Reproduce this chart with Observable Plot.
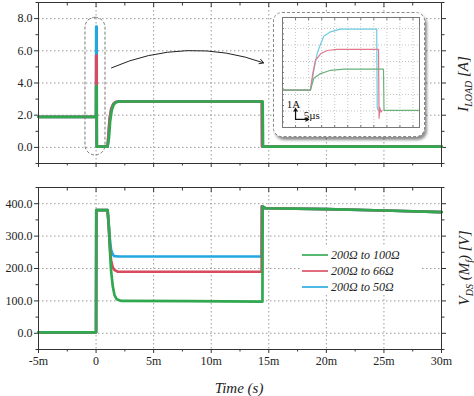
<!DOCTYPE html>
<html><head><meta charset="utf-8">
<script src="https://cdn.jsdelivr.net/npm/d3@7"></script>
<script src="https://cdn.jsdelivr.net/npm/@observablehq/plot@0.6"></script>
<style>
body{margin:0;background:#fff;}
#wrap{position:relative;width:474px;height:396px;overflow:hidden;}
#wrap > svg, #wrap > div{position:absolute;}
</style></head><body><div id="wrap"></div>
<script>
// ---- colours ----
const colGreen = "#2fa84f", colRed = "#d84a5e", colBlue = "#22a8df";
const inGreen = "#6bb27c", inRed = "#e0798c", inBlue = "#6dcbe4";

// ---- ticks ----
const timeTicks = [-5, 0, 5, 10, 15, 20, 25, 30];
const timeMinor = [-2.5, 2.5, 7.5, 12.5, 17.5, 22.5, 27.5];
const iTicks = [0, 2, 4, 6, 8];
const iMinor = [-1, 1, 3, 5, 7, 9];
const vTicks = [0, 100, 200, 300, 400];
const vMinor = [-50, 50, 150, 250, 350, 450];

// ---- load current (ms, A) ----
const iBlue  = [[-5,1.9],[0,1.9],[0.01,7.5],[0.05,7.5],[0.06,0.05],[1.0,0.05],[1.08,0.8],[1.18,1.8],[1.32,2.4],[1.5,2.7],[1.7,2.82],[2,2.85],[14.4,2.85],[14.42,0.05],[30,0.05]];
const iRed   = [[-5,1.9],[0,1.9],[0.01,5.7],[0.05,5.7],[0.06,0.05],[1.0,0.05],[1.08,0.8],[1.18,1.8],[1.32,2.4],[1.5,2.7],[1.7,2.82],[2,2.85],[14.4,2.85],[14.42,0.05],[30,0.05]];
const iGreen = [[-5,1.9],[0,1.9],[0.01,3.8],[0.05,3.8],[0.06,0.05],[1.0,0.05],[1.12,0.6],[1.22,1.6],[1.36,2.3],[1.52,2.65],[1.72,2.8],[2,2.85],[14.47,2.85],[14.5,0.05],[30,0.05]];

// ---- drain-source voltage (ms, V) ----
const vBlue  = [[-5,3],[0,3],[0.02,380],[1.0,380],[1.1,335],[1.2,290],[1.3,258],[1.45,243],[1.6,238],[2,237],[14.38,237],[14.4,392],[14.7,386],[20,383],[25,379],[30,374]];
const vRed   = [[-5,3],[0,3],[0.02,380],[1.0,380],[1.1,330],[1.2,270],[1.3,225],[1.45,203],[1.6,195],[1.9,190],[14.38,190],[14.4,392],[14.7,386],[20,383],[25,379],[30,374]];
const vGreen = [[-5,3],[0,3],[0.02,380],[1.0,380],[1.1,335],[1.2,260],[1.3,195],[1.45,145],[1.6,118],[1.8,105],[2.2,100],[8,99],[14.45,98],[14.47,392],[14.7,386],[20,383],[25,379],[30,374]];

// ---- inset zoom of current spike (µs, A) ----
const insetBlue  = [[0,1.9],[10.7,1.9],[12.0,3.7],[13.3,5.25],[14.6,6.1],[15.8,6.8],[18.4,7.2],[22.2,7.45],[36.1,7.45],[36.3,0.3],[36.7,0.05]];
const insetRed   = [[0,1.9],[10.7,1.9],[11.6,3.4],[12.6,4.6],[14.6,5.2],[17.1,5.5],[21,5.6],[36.8,5.6],[37.0,-0.65],[37.3,0.3],[37.7,-0.1],[38.2,0.05]];
const insetGreen = [[0,1.9],[10.7,1.9],[12.0,2.97],[14.6,3.4],[18.4,3.7],[23.5,3.8],[38.7,3.8],[38.9,0.05],[52.5,0.05]];
const insetXTicks = [5, 10, 15, 20, 25, 30, 35, 40, 45, 50];
const insetYTicks = [0, 1.5, 3, 4.5, 6, 7.5];
const insetYMinor = [-1, -0.5, 0, 0.5, 1, 1.5, 2, 2.5, 3, 3.5, 4, 4.5, 5, 5.5, 6, 6.5, 7, 7.5, 8];

// ---- annotations ----
const spikeBox = [{x1: -0.92, x2: 0.82, y1: -0.5, y2: 8.05}];
const zoomArrow = [{x1: 1.34, y1: 4.94, x2: 14.55, y2: 5.25}];
const scaleBarV = [{x1: 5, y1: -0.77, x2: 5, y2: 0.23}];
const scaleBarH = [{x1: 5, y1: -0.77, x2: 10, y2: -0.77}];
const scaleLabels = [{x: 4.2, y: 0.6, t: "1A", a: "middle"}, {x: 11.2, y: -0.45, t: "5µs", a: "start"}];

// ---- legend ----
const legendItems = [["200Ω to 100Ω", colGreen], ["200Ω to 66Ω", colRed], ["200Ω to 50Ω", colBlue]];

const wrap = document.getElementById("wrap");
const FONT = "'Liberation Serif', Tinos, 'Noto Serif', 'DejaVu Serif', Times, serif";
wrap.style.fontFamily = FONT;
const pt = d => d[0], pv = d => d[1];
const gridStyle = {stroke: "#9a9a9a", strokeOpacity: 1, strokeDasharray: "1.5,2.5", strokeWidth: 1};

function frameAxes(xt, xm, yt, ym, yfmt, xLabels) {
  const none = () => "";
  return [
    Plot.gridX(xt, gridStyle),
    Plot.gridY(yt, gridStyle),
    Plot.axisX(xt, {anchor: "bottom", tickSize: 4, tickPadding: 3, tickFormat: xLabels ? (d => d === 0 ? "0" : d + "m") : none, label: null, stroke: "#333"}),
    Plot.axisX(xm, {anchor: "bottom", tickSize: 2.5, tickFormat: none, label: null, stroke: "#333"}),
    Plot.axisX(xt, {anchor: "top", tickSize: -4, tickFormat: none, label: null, stroke: "#333"}),
    Plot.axisX(xm, {anchor: "top", tickSize: -2.5, tickFormat: none, label: null, stroke: "#333"}),
    Plot.axisY(yt, {anchor: "left", tickSize: 4, tickPadding: 2, tickFormat: yfmt, label: null, stroke: "#333"}),
    Plot.axisY(ym, {anchor: "left", tickSize: 2.5, tickFormat: none, label: null, stroke: "#333"}),
    Plot.axisY(yt, {anchor: "right", tickSize: 4, tickFormat: none, label: null, stroke: "#333"}),
    Plot.axisY(ym, {anchor: "right", tickSize: 2.5, tickFormat: none, label: null, stroke: "#333"})
  ];
}

function sideLabel(svg, x, y, parts) {
  const t = d3.select(svg).append("text")
    .attr("transform", `translate(${x},${y}) rotate(-90)`)
    .attr("text-anchor", "middle").attr("font-style", "italic")
    .style("font-family", FONT).attr("font-size", 15).attr("fill", "#222");
  let shifted = false;
  parts.forEach(([s, sub]) => {
    const ts = t.append("tspan").text(s);
    if (sub && !shifted) { ts.attr("font-size", 10).attr("dy", 4); shifted = true; }
    else if (!sub && shifted) { ts.attr("dy", -4); shifted = false; }
    else if (sub) ts.attr("font-size", 10);
  });
}

const lineOpts = (stroke) => ({x: pt, y: pv, stroke, strokeWidth: 2.7, curve: "linear"});

// ---- top panel ----
const topPlot = Plot.plot({
  width: 474, height: 178,
  marginTop: 2, marginBottom: 15, marginLeft: 38, marginRight: 33,
  style: {fontFamily: FONT, fontSize: "12px", color: "#222", background: "none"},
  x: {domain: [-5, 30]},
  y: {domain: [-1, 9]},
  marks: [
    ...frameAxes(timeTicks, timeMinor, iTicks, iMinor, d3.format(".1f"), false),
    Plot.line(iBlue, lineOpts(colBlue)),
    Plot.line(iRed, lineOpts(colRed)),
    Plot.line(iGreen, lineOpts(colGreen)),
    Plot.rect(spikeBox, {x1: "x1", x2: "x2", y1: "y1", y2: "y2", rx: 10, fill: "none", stroke: "#777", strokeDasharray: "3,2"}),
    Plot.arrow(zoomArrow, {x1: "x1", y1: "y1", x2: "x2", y2: "y2", bend: 22, stroke: "#222", strokeWidth: 1, headLength: 7}),
    Plot.frame({stroke: "#333"})
  ]
});
topPlot.style.left = "0px"; topPlot.style.top = "0px";
wrap.appendChild(topPlot);
sideLabel(topPlot, 468, 84, [["I"], ["LOAD", true], [" [A]"]]);

// ---- bottom panel ----
const bottomPlot = Plot.plot({
  width: 474, height: 218,
  marginTop: 9, marginBottom: 47, marginLeft: 38, marginRight: 33,
  style: {fontFamily: FONT, fontSize: "12px", color: "#222", background: "none"},
  x: {domain: [-5, 30]},
  y: {domain: [-50, 450]},
  marks: [
    ...frameAxes(timeTicks, timeMinor, vTicks, vMinor, d3.format(".1f"), true),
    Plot.line(vBlue, lineOpts(colBlue)),
    Plot.line(vRed, lineOpts(colRed)),
    Plot.line(vGreen, lineOpts(colGreen)),
    Plot.frame({stroke: "#333"})
  ]
});
bottomPlot.style.left = "0px"; bottomPlot.style.top = "178px";
wrap.appendChild(bottomPlot);
sideLabel(bottomPlot, 469, 90, [["V"], ["DS", true], [" (M"], ["f", true], [") [V]"]]);
d3.select(bottomPlot).append("text").attr("x", 239).attr("y", 215)
  .attr("text-anchor", "middle").attr("font-style", "italic").style("font-family", FONT)
  .attr("font-size", 15).attr("fill", "#222").text("Time (s)");

// ---- legend ----
const leg = d3.select(wrap).append("div")
  .style("left", "300px").style("top", "247px").style("width", "122px").style("height", "48px")
  .style("background", "#fff");
legendItems.forEach(([label, c], i) => {
  const row = leg.append("div").style("display", "flex").style("align-items", "center").style("height", "16px");
  row.append("svg").attr("width", 30).attr("height", 16)
    .append("line").attr("x1", 2).attr("x2", 28).attr("y1", 8).attr("y2", 8).attr("stroke", c).attr("stroke-width", 1.6);
  row.append("span").text(label).style("font-style", "italic").style("font-size", "12px").style("color", "#222")
    .style("margin-left", "1px").style("font-family", FONT);
});

// ---- inset ----
d3.select(wrap).append("div")
  .style("left", "273px").style("top", "12px").style("width", "152px").style("height", "125px")
  .style("box-sizing", "border-box").style("border", "1.3px dashed #888").style("border-radius", "9px")
  .style("background", "#fff").style("box-shadow", "2px 3px 3px rgba(0,0,0,0.45)");
const inset = Plot.plot({
  width: 152, height: 125,
  marginTop: 5, marginBottom: 10, marginLeft: 9, marginRight: 6,
  style: {fontFamily: FONT, fontSize: "11px", background: "none", color: "#222"},
  x: {domain: [0, 52.5]},
  y: {domain: [-1.5, 8.5]},
  marks: [
    Plot.gridX(insetXTicks, {stroke: "#c4c4c4", strokeOpacity: 1, strokeDasharray: "1,2"}),
    Plot.gridY(insetYTicks, {stroke: "#c4c4c4", strokeOpacity: 1, strokeDasharray: "1,2"}),
    Plot.axisY(insetYMinor, {anchor: "left", tickSize: -2, tickFormat: () => "", label: null, stroke: "#777"}),
    Plot.axisX(insetXTicks, {anchor: "bottom", tickSize: -2, tickFormat: () => "", label: null, stroke: "#777"}),
    Plot.axisX(insetXTicks, {anchor: "top", tickSize: -2, tickFormat: () => "", label: null, stroke: "#777"}),
    Plot.line(insetBlue, {x: pt, y: pv, stroke: inBlue, strokeWidth: 1.2}),
    Plot.line(insetRed, {x: pt, y: pv, stroke: inRed, strokeWidth: 1.2}),
    Plot.line(insetGreen, {x: pt, y: pv, stroke: inGreen, strokeWidth: 1.2}),
    Plot.arrow(scaleBarV, {x1: "x1", y1: "y1", x2: "x2", y2: "y2", stroke: "#111", strokeWidth: 1.2, headLength: 4}),
    Plot.arrow(scaleBarH, {x1: "x1", y1: "y1", x2: "x2", y2: "y2", stroke: "#111", strokeWidth: 1.2, headLength: 4}),
    Plot.text(scaleLabels, {x: "x", y: "y", text: "t", textAnchor: "a", fontSize: 11, fill: "#111"}),
    Plot.frame({stroke: "#777"})
  ]
});
inset.style.left = "273px"; inset.style.top = "12px";
wrap.appendChild(inset);
</script></body></html>
